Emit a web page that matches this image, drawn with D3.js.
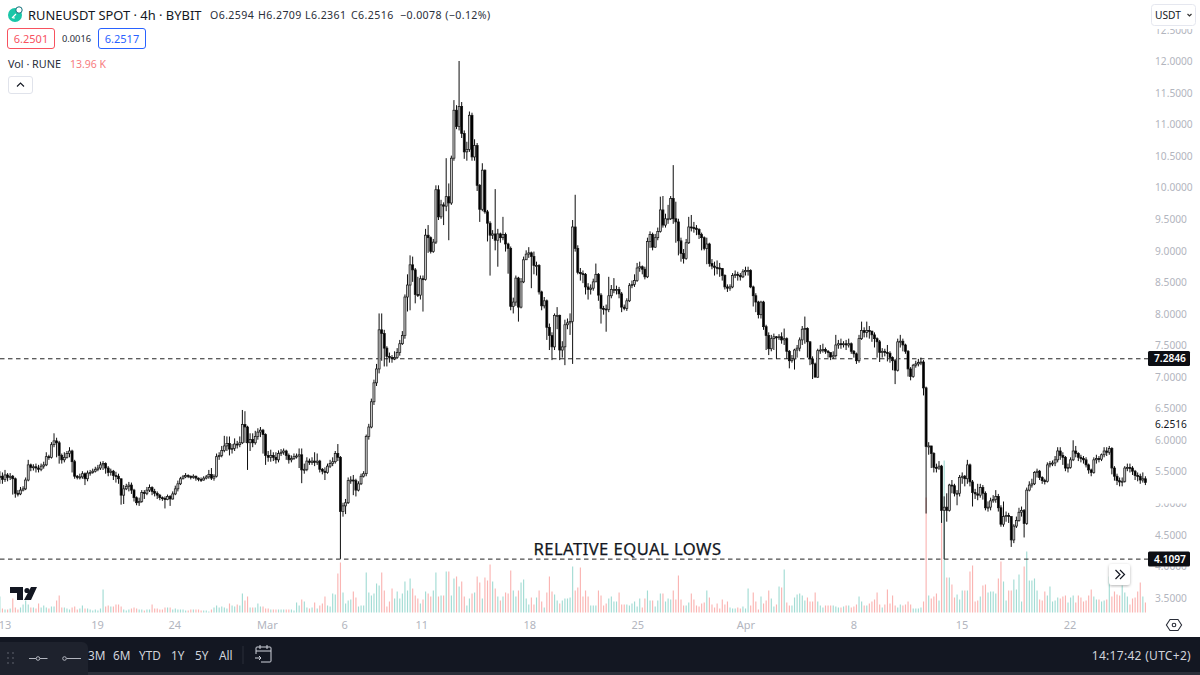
<!DOCTYPE html>
<html><head><meta charset="utf-8">
<script src="https://cdnjs.cloudflare.com/ajax/libs/d3/7.8.5/d3.min.js"></script>
<style>html,body{margin:0;padding:0;background:#fff;overflow:hidden}svg{display:block}text{font-family:"Noto Sans",sans-serif}</style>
</head><body><svg id="c" width="1200" height="675"></svg>
<script>
const closes=[
5.42,5.37,5.44,5.40,5.42,5.38,5.15,5.14,5.20,5.22,
5.36,5.60,5.56,5.57,5.55,5.53,5.58,5.60,5.73,5.72,
5.92,5.98,5.95,5.75,5.68,5.72,5.78,5.82,5.65,5.42,
5.40,5.41,5.46,5.38,5.47,5.48,5.50,5.53,5.55,5.60,
5.62,5.55,5.48,5.50,5.43,5.42,5.38,5.12,5.22,5.26,
5.28,5.20,5.08,5.00,5.02,5.16,5.15,5.20,5.24,5.18,
5.15,5.12,5.08,5.07,5.05,5.10,5.06,5.14,5.22,5.30,
5.38,5.41,5.43,5.42,5.40,5.42,5.39,5.37,5.36,5.39,
5.41,5.45,5.39,5.42,5.73,5.75,5.83,5.90,5.94,5.85,
5.86,5.93,5.92,5.95,6.24,6.20,5.95,6.00,5.95,6.05,
6.12,6.15,6.08,5.75,5.72,5.75,5.72,5.68,5.78,5.80,
5.82,5.75,5.68,5.70,5.73,5.74,5.76,5.52,5.53,5.66,
5.64,5.66,5.64,5.66,5.53,5.50,5.48,5.58,5.62,5.65,
5.78,5.72,4.86,4.95,5.00,5.35,5.36,5.35,5.20,5.30,
5.42,5.46,6.05,6.20,6.60,6.90,7.12,7.74,7.68,7.45,
7.32,7.30,7.28,7.30,7.38,7.52,7.65,8.26,8.45,8.77,
8.69,8.30,8.29,8.55,8.54,9.24,9.20,8.98,9.13,9.96,
9.53,9.72,9.70,9.85,9.75,10.46,11.22,10.96,11.28,10.85,
10.56,10.60,11.14,10.48,10.66,10.03,9.65,10.27,9.61,9.43,
9.24,9.26,9.16,9.26,9.20,9.25,9.10,9.03,8.11,8.18,
8.56,8.10,8.50,8.85,8.94,8.96,8.90,8.76,8.76,8.34,
8.12,8.20,7.78,7.65,7.47,7.97,7.97,7.42,7.47,7.82,
7.85,7.87,9.37,9.03,8.65,8.63,8.62,8.42,8.38,8.40,
8.50,8.62,8.29,8.08,8.07,8.06,8.28,8.38,8.38,8.38,
8.31,8.10,8.08,8.20,8.44,8.46,8.52,8.72,8.74,8.70,
8.58,9.14,9.25,9.05,9.20,9.30,9.64,9.40,9.50,9.50,
9.82,9.50,9.45,9.15,8.95,8.87,9.12,9.37,9.36,9.35,
9.33,9.25,9.20,9.03,9.10,8.79,8.75,8.73,8.72,8.71,
8.60,8.42,8.40,8.42,8.60,8.62,8.60,8.58,8.66,8.68,
8.68,8.42,8.28,8.18,7.98,8.18,7.79,7.65,7.44,7.60,
7.63,7.62,7.63,7.58,7.60,7.40,7.25,7.28,7.42,7.45,
7.58,7.75,7.76,7.55,7.28,7.20,6.99,7.41,7.42,7.43,
7.40,7.38,7.31,7.33,7.50,7.52,7.51,7.52,7.50,7.52,
7.40,7.36,7.25,7.60,7.73,7.70,7.73,7.72,7.66,7.60,
7.55,7.38,7.40,7.38,7.37,7.30,7.25,7.10,7.55,7.56,
7.50,7.40,7.12,7.00,7.18,7.20,7.22,7.23,6.82,5.89,
5.90,5.78,5.56,5.55,5.58,4.88,4.93,4.88,5.28,5.27,
5.15,5.15,5.40,5.42,5.38,5.60,5.33,5.16,5.14,5.12,
5.24,5.15,4.92,4.93,5.03,5.05,5.10,4.92,4.66,4.78,
4.80,4.78,4.41,4.63,4.72,4.85,4.88,4.67,5.20,5.28,
5.30,5.48,5.50,5.40,5.35,5.34,5.60,5.62,5.63,5.68,
5.82,5.75,5.72,5.55,5.56,5.68,5.82,5.78,5.72,5.70,
5.68,5.60,5.52,5.48,5.68,5.70,5.69,5.76,5.82,5.80,
5.86,5.55,5.42,5.35,5.33,5.34,5.55,5.56,5.55,5.50,
5.43,5.42,5.36,5.38,5.32];
const highs=[
5.50,5.48,5.52,5.47,5.47,5.44,5.40,5.20,5.25,5.26,
5.40,5.68,5.62,5.61,5.62,5.60,5.62,5.65,5.80,5.76,
5.96,6.10,6.03,5.98,5.78,5.80,5.82,5.88,5.84,5.68,
5.44,5.46,5.50,5.48,5.51,5.52,5.54,5.57,5.60,5.65,
5.66,5.64,5.58,5.54,5.52,5.49,5.46,5.38,5.28,5.30,
5.33,5.32,5.22,5.10,5.08,5.20,5.20,5.25,5.29,5.26,
5.22,5.18,5.14,5.10,5.10,5.13,5.12,5.18,5.27,5.35,
5.41,5.44,5.47,5.45,5.43,5.45,5.43,5.40,5.40,5.42,
5.44,5.52,5.55,5.45,5.78,5.80,5.90,6.06,6.05,6.05,
5.93,6.02,5.98,6.05,6.47,6.45,6.22,6.10,6.10,6.14,
6.18,6.20,6.17,6.10,5.82,5.84,5.80,5.80,5.83,5.85,
5.86,5.84,5.78,5.75,5.78,5.78,5.86,5.86,5.62,5.72,
5.70,5.72,5.80,5.78,5.68,5.55,5.56,5.62,5.68,5.72,
5.82,5.93,5.74,5.00,5.06,5.40,5.42,5.44,5.38,5.34,
5.46,5.50,6.08,6.25,6.65,6.95,7.20,8.00,8.00,7.74,
7.48,7.38,7.34,7.40,7.45,7.58,7.72,8.30,8.62,8.92,
8.90,8.72,8.58,8.60,8.60,9.34,9.40,9.22,9.18,10.03,
10.03,9.80,9.76,10.46,10.06,10.50,11.38,11.30,12.00,11.35,
10.90,10.72,11.20,11.18,10.76,10.70,10.05,10.38,10.28,9.64,
9.46,9.32,9.97,9.34,9.28,9.53,9.28,9.12,9.06,8.25,
8.60,8.58,8.56,8.90,9.00,9.05,8.98,8.98,8.82,8.78,
8.36,8.26,8.22,7.84,7.70,8.00,8.10,7.98,7.56,7.90,
7.92,8.00,9.48,9.88,9.08,8.72,8.68,8.64,8.48,8.46,
8.55,8.79,8.64,8.32,8.12,8.14,8.58,8.45,8.56,8.44,
8.42,8.34,8.14,8.24,8.48,8.52,8.62,8.80,8.82,8.76,
8.74,9.20,9.30,9.28,9.26,9.36,9.85,9.86,9.58,9.72,
9.86,10.35,9.77,9.50,9.20,9.02,9.18,9.53,9.56,9.45,
9.40,9.35,9.28,9.22,9.20,9.12,8.86,8.82,8.84,8.80,
8.72,8.62,8.46,8.46,8.64,8.68,8.66,8.64,8.70,8.74,
8.74,8.70,8.44,8.32,8.20,8.20,8.20,7.82,7.70,7.66,
7.68,7.64,7.67,7.70,7.76,7.62,7.42,7.34,7.44,7.50,
7.62,7.80,7.95,7.78,7.56,7.32,7.22,7.44,7.50,7.52,
7.46,7.42,7.38,7.40,7.66,7.58,7.60,7.56,7.58,7.60,
7.54,7.42,7.38,7.66,7.87,7.78,7.87,7.80,7.72,7.70,
7.62,7.58,7.45,7.44,7.50,7.40,7.32,7.28,7.60,7.66,
7.60,7.52,7.42,7.15,7.20,7.25,7.28,7.30,7.26,6.84,
5.96,5.90,5.80,5.62,5.66,5.60,5.10,5.15,5.30,5.36,
5.30,5.20,5.44,5.48,5.44,5.68,5.62,5.36,5.22,5.30,
5.30,5.28,5.18,5.02,5.08,5.12,5.20,5.14,4.96,5.02,
4.86,4.84,4.78,4.66,4.78,4.92,4.94,4.90,5.24,5.34,
5.38,5.50,5.54,5.52,5.42,5.38,5.64,5.66,5.67,5.74,
5.88,5.88,5.80,5.74,5.62,5.72,5.99,5.90,5.80,5.76,
5.74,5.72,5.62,5.54,5.72,5.76,5.74,5.78,5.88,5.88,
5.90,5.88,5.58,5.46,5.40,5.40,5.58,5.62,5.62,5.58,
5.52,5.48,5.46,5.48,5.42];
const lows=[
5.30,5.30,5.33,5.34,5.36,5.13,5.08,5.10,5.12,5.18,
5.20,5.34,5.50,5.51,5.48,5.48,5.50,5.54,5.58,5.68,
5.70,5.88,5.72,5.62,5.62,5.64,5.70,5.72,5.48,5.38,
5.37,5.37,5.38,5.28,5.34,5.43,5.46,5.48,5.50,5.52,
5.52,5.46,5.42,5.43,5.36,5.32,5.30,4.97,4.98,5.20,
5.18,5.14,5.02,4.96,4.95,5.00,5.06,5.12,5.17,5.12,
5.10,5.06,5.04,5.03,4.91,5.04,4.95,5.05,5.12,5.18,
5.28,5.37,5.39,5.39,5.37,5.38,5.35,5.34,5.33,5.35,
5.37,5.38,5.36,5.35,5.40,5.68,5.72,5.80,5.82,5.75,
5.78,5.82,5.86,5.88,5.93,5.95,5.52,5.82,5.88,5.92,
6.00,6.04,5.78,5.60,5.65,5.65,5.66,5.62,5.64,5.74,
5.76,5.68,5.62,5.64,5.68,5.70,5.55,5.31,5.46,5.50,
5.60,5.60,5.58,5.60,5.48,5.45,5.36,5.46,5.55,5.58,
5.62,5.66,4.11,4.78,4.82,4.98,5.30,5.12,5.10,5.18,
5.28,5.40,5.42,6.00,6.18,6.55,6.85,7.05,7.25,7.16,
7.16,7.22,7.22,7.26,7.28,7.33,7.50,7.60,8.03,8.05,
8.50,8.16,8.26,8.22,8.03,8.52,8.96,8.95,8.96,9.10,
9.48,9.50,9.40,9.62,9.16,9.72,10.42,10.92,10.90,10.78,
10.45,10.42,10.56,10.42,10.42,9.94,9.45,9.62,9.58,9.14,
8.60,9.18,9.00,8.74,9.12,9.16,8.98,8.63,8.05,8.00,
8.12,7.87,8.08,8.48,8.85,8.88,8.40,8.62,8.60,8.30,
8.05,8.08,7.58,7.42,7.26,7.42,7.75,7.26,7.30,7.18,
7.75,7.66,7.20,8.98,8.62,8.52,8.48,8.30,8.22,8.30,
8.36,8.50,8.20,7.84,7.98,7.71,8.02,8.24,8.32,8.30,
8.24,8.02,8.05,8.04,8.18,8.40,8.42,8.50,8.66,8.62,
8.54,8.56,9.04,9.00,9.04,9.16,9.28,9.36,9.36,9.42,
9.48,9.42,9.12,8.92,8.82,8.79,8.85,9.10,9.30,9.28,
9.24,9.18,9.00,9.00,8.78,8.74,8.70,8.60,8.62,8.58,
8.52,8.38,8.34,8.36,8.40,8.56,8.52,8.52,8.56,8.60,
8.60,8.40,8.11,8.02,7.92,7.92,7.74,7.42,7.34,7.40,
7.42,7.28,7.58,7.52,7.50,7.28,7.13,7.22,7.11,7.30,
7.40,7.50,7.52,7.30,7.18,6.96,6.99,6.98,7.36,7.38,
7.36,7.30,7.26,7.28,7.30,7.44,7.44,7.46,7.42,7.46,
7.36,7.30,7.20,7.22,7.58,7.62,7.62,7.60,7.55,7.46,
7.30,7.23,7.30,7.32,7.24,7.22,7.10,6.88,7.08,7.46,
7.40,7.36,7.00,6.94,6.98,7.14,7.16,7.18,6.70,4.83,
5.76,5.55,5.48,5.48,5.52,4.68,4.11,4.70,4.86,5.15,
5.10,4.96,5.10,5.30,5.26,5.30,5.26,4.94,5.06,5.04,
5.08,5.05,4.88,4.86,4.88,5.00,5.00,4.86,4.62,4.62,
4.70,4.68,4.30,4.36,4.60,4.70,4.78,4.45,4.65,5.18,
5.24,5.28,5.40,5.36,5.30,5.29,5.32,5.56,5.58,5.58,
5.64,5.68,5.60,5.50,5.48,5.54,5.66,5.72,5.66,5.64,
5.62,5.56,5.46,5.42,5.46,5.62,5.64,5.66,5.72,5.74,
5.76,5.45,5.35,5.28,5.26,5.26,5.32,5.50,5.48,5.44,
5.36,5.34,5.30,5.32,5.28];
const volumes=[
16,4,3,3,4,14,5,3,5,8,
12,8,5,5,4,9,5,7,5,4,
6,6,12,17,5,5,4,3,5,6,
3,4,7,4,4,3,2,3,2,4,
23,6,7,6,6,8,8,6,3,2,
3,4,5,4,3,3,2,3,3,8,
4,4,3,3,5,5,5,3,4,3,
3,3,2,2,3,3,3,3,2,2,
2,1,3,5,7,5,6,5,4,9,
7,6,8,7,19,12,16,5,5,5,
9,6,6,4,4,3,3,3,3,3,
3,3,3,3,2,10,7,13,11,5,
4,5,10,4,7,9,16,7,6,19,
18,39,50,20,9,12,13,21,15,6,
7,7,40,20,17,19,29,27,40,22,
6,11,24,14,21,14,19,31,22,34,
24,17,14,9,13,21,19,16,22,40,
16,17,17,41,41,17,34,36,26,31,
16,7,14,19,20,36,30,14,35,32,
48,31,24,16,12,16,20,19,42,22,
16,22,30,33,14,8,15,8,15,22,
11,5,20,36,21,18,12,9,12,14,
14,15,46,22,25,45,16,22,16,7,
7,7,22,17,7,9,14,16,11,11,
20,8,8,8,7,9,11,6,14,5,
14,22,12,12,6,12,19,19,11,14,
13,22,13,37,13,7,7,10,19,13,
7,6,9,10,22,15,8,5,9,4,
13,8,11,5,4,4,5,4,6,4,
24,7,20,11,3,16,9,12,22,14,
6,8,26,25,43,10,7,7,15,18,
19,17,12,15,11,11,20,11,7,5,
7,7,7,7,6,5,5,6,7,7,
5,6,8,16,11,7,7,9,11,13,
20,8,5,8,23,9,17,7,5,8,
7,8,11,8,4,4,4,5,11,115,
17,14,16,19,12,90,152,35,35,28,
15,18,13,22,22,22,41,47,11,12,
16,27,28,20,21,21,19,34,51,31,
12,22,22,33,23,38,11,46,61,32,
32,34,22,13,12,21,17,26,11,12,
15,14,16,17,10,15,17,10,17,15,
11,12,17,23,16,13,13,11,12,13,
36,16,21,18,17,27,20,16,8,14,
15,21,30,16,10];
const firstOpen=5.40;
const startTime=Date.UTC(2024,1,12,16);
const priceTicks=[3.5,4,4.5,5,5.5,6,6.5,7,7.5,8,8.5,9,9.5,10,10.5,11,11.5,12,12.5];
const dateTicks=[[2024,1,13,"13"],[2024,1,19,"19"],[2024,1,24,"24"],[2024,2,1,"Mar"],[2024,2,6,"6"],[2024,2,11,"11"],[2024,2,18,"18"],[2024,2,25,"25"],[2024,3,1,"Apr"],[2024,3,8,"8"],[2024,3,15,"15"],[2024,3,22,"22"]];
const levels=[7.2846,4.1097];
const rangeButtons=[["3M",88],["6M",113],["YTD",139],["1Y",171],["5Y",195],["All",219]];

const svg=d3.select("#c");
const FOUR_H=4*3600*1000;
const t=i=>new Date(startTime+i*FOUR_H);
const x=d3.scaleUtc().domain([t(0),t(444)]).range([-0.16,1145.4]);
const xTicks=d3.scaleUtc().domain([t(2),t(416)]).range([5,1070]);
const y=d3.scaleLinear().domain([3.5,12]).range([597.4,61]);
const v=d3.scaleLinear().domain([0,160]).range([612.5,452.5]);

svg.append("rect").attr("width",1200).attr("height",675).attr("fill","#fff");
svg.append("defs").append("clipPath").attr("id","pane").append("rect").attr("width",1148).attr("height",637);
svg.append("defs").append("filter").attr("id","soft").append("feGaussianBlur").attr("stdDeviation",0.35);
const data=closes.map((c,i)=>({i,c,o:i?closes[i-1]:firstOpen,h:highs[i],l:lows[i],v:volumes[i]}));
const pane=svg.append("g").attr("clip-path","url(#pane)");

// volume
pane.append("g").selectAll("rect").data(data).join("rect")
 .attr("x",d=>x(t(d.i))-0.55).attr("width",1.15)
 .attr("y",d=>v(d.v)).attr("height",d=>v(0)-v(d.v))
 .attr("fill",d=>d.c>=d.o?"#a3dcd4":"#fab5b3");

// level lines
pane.append("g").selectAll("line").data(levels).join("line")
 .attr("x1",0).attr("x2",1148).attr("y1",d=>y(d)+0.2).attr("y2",d=>y(d)+0.2)
 .attr("stroke","#222").attr("stroke-width",1).attr("stroke-dasharray","4.5 3.5");

// candles
const cg=pane.append("g").attr("filter","url(#soft)");
cg.append("g").selectAll("line").data(data).join("line")
 .attr("x1",d=>x(t(d.i))).attr("x2",d=>x(t(d.i)))
 .attr("y1",d=>y(Math.max(d.h,d.o,d.c))).attr("y2",d=>y(Math.min(d.l,d.o,d.c)))
 .attr("stroke","#111").attr("stroke-width",1);
cg.append("g").selectAll("rect").data(data).join("rect")
 .attr("x",d=>x(t(d.i))-1).attr("width",2)
 .attr("y",d=>y(Math.max(d.o,d.c))).attr("height",d=>Math.max(1,Math.abs(y(d.o)-y(d.c))))
 .attr("fill",d=>d.c>=d.o?"#c4c4c4":"#000").attr("stroke","#111").attr("stroke-width",0.7);

svg.append("text").attr("x",627.5).attr("y",554.5).attr("text-anchor","middle").attr("font-size",16.6).attr("fill","#131722").attr("stroke","#131722").attr("stroke-width",0.25).attr("letter-spacing",0.45).text("RELATIVE EQUAL LOWS");

// TV logo
svg.append("path").attr("d","M10 587h13v13h-6v-7h-7z M31 587h6l-6 13h-7z").attr("fill","#131722");
svg.append("circle").attr("cx",27).attr("cy",590.5).attr("r",2.6).attr("fill","#131722");

// price axis
const yAxis=d3.axisRight(y).tickValues(priceTicks).tickSize(0).tickPadding(7).tickFormat(d3.format(".4f"));
const gy=svg.append("g").attr("transform","translate(1148,0.5)").call(yAxis);
gy.select(".domain").remove();
gy.selectAll("text").attr("fill","#b2b5be").attr("font-size",10.2).style("font-family",'"Noto Sans",sans-serif');
// covers over clipped axis labels
svg.append("rect").attr("x",1150).attr("y",0).attr("width",50).attr("height",29).attr("fill","#fff");
svg.append("rect").attr("x",1150).attr("y",494).attr("width",50).attr("height",9.5).attr("fill","#fff");
svg.append("text").attr("x",1155).attr("y",428).attr("font-size",10.2).attr("fill","#131722").text(d3.format(".4f")(6.2516));

levels.forEach(l=>{
 const g=svg.append("g").attr("transform",`translate(0,${y(l)})`);
 g.append("rect").attr("x",1148).attr("y",-7.5).attr("width",42).attr("height",15).attr("rx",1.5).attr("fill","#0c0e13");
 g.append("text").attr("x",1154).attr("y",3.8).attr("font-size",10.2).attr("font-weight",600).attr("fill","#fff").text(d3.format(".4f")(l));
});

// USDT box
svg.append("rect").attr("x",1151.5).attr("y",4.5).attr("width",44).attr("height",21).attr("rx",3).attr("fill","#fff").attr("stroke","#e5e7ef");
svg.append("text").attr("x",1155).attr("y",18.5).attr("font-size",10.2).attr("fill","#131722").text("USDT");
svg.append("path").attr("d","M1187.5 14l2 2 2-2").attr("fill","none").attr("stroke","#333").attr("stroke-width",1.2);

// date axis
const gx=svg.append("g");
gx.selectAll("text").data(dateTicks).join("text")
 .attr("x",d=>xTicks(new Date(Date.UTC(d[0],d[1],d[2])))).attr("y",629).attr("text-anchor","middle")
 .attr("fill","#b2b5be").attr("font-size",11).text(d=>d[3]);

// gear
svg.append("path").attr("d","M1170 619.5h8l3.6 5.5-3.6 5.5h-8l-3.6-5.5z").attr("fill","none").attr("stroke","#2a2e39").attr("stroke-width",1.1);
svg.append("circle").attr("cx",1174).attr("cy",625).attr("r",1.8).attr("fill","none").attr("stroke","#2a2e39").attr("stroke-width",1.1);

// >> button
svg.append("defs").append("filter").attr("id","sh").append("feDropShadow").attr("dx",0).attr("dy",1).attr("stdDeviation",1.5).attr("flood-opacity",0.3);
svg.append("rect").attr("x",1109).attr("y",564).attr("width",21).attr("height",21).attr("rx",3).attr("fill","#fff").attr("filter","url(#sh)");
svg.append("path").attr("d","M1115.5 570l4.5 4.5-4.5 4.5M1120 570l4.5 4.5-4.5 4.5").attr("fill","none").attr("stroke","#131722").attr("stroke-width",1.2);

// bottom bar
svg.append("rect").attr("x",0).attr("y",637).attr("width",1200).attr("height",35).attr("fill","#131722");
svg.append("rect").attr("x",0).attr("y",672).attr("width",1200).attr("height",3).attr("fill","#2a2e39");
svg.append("rect").attr("x",-5).attr("y",642).attr("width",93).attr("height",40).attr("rx",6).attr("fill","#1e222d");
svg.append("g").selectAll("circle").data([[8,653],[13,653],[8,658],[13,658],[8,663],[13,663]]).join("circle")
 .attr("cx",d=>d[0]).attr("cy",d=>d[1]).attr("r",0.9).attr("fill","#50535e");
svg.append("path").attr("d","M29 658.5h7m4 0h7.5M66.5 658.5h14.5").attr("stroke","#b2b5be").attr("fill","none");
svg.append("circle").attr("cx",38).attr("cy",658.5).attr("r",1.8).attr("fill","none").attr("stroke","#b2b5be");
svg.append("circle").attr("cx",64.5).attr("cy",658.5).attr("r",1.8).attr("fill","none").attr("stroke","#b2b5be");
svg.append("g").selectAll("text").data(rangeButtons).join("text")
 .attr("x",d=>d[1]).attr("y",659.5).attr("font-size",11.8).attr("fill","#d1d4dc").text(d=>d[0]);
svg.append("line").attr("x1",243).attr("x2",243).attr("y1",646).attr("y2",664).attr("stroke","#2a2e39");
svg.append("path").attr("d","M256 654v-6a1 1 0 0 1 1-1h13a1 1 0 0 1 1 1v13a1 1 0 0 1-1 1h-9M256 651h15M260 645v4M267 645v4M255 658h6l-2-2m2 2l-2 2").attr("fill","none").attr("stroke","#d1d4dc");
svg.append("text").attr("x",1191).attr("y",659.5).attr("text-anchor","end").attr("font-size",12).attr("letter-spacing",0.3).attr("fill","#d1d4dc").text("14:17:42 (UTC+2)");

// header legend
svg.append("circle").attr("cx",15).attr("cy",15).attr("r",7).attr("fill","#19c6a8");
svg.append("circle").attr("cx",19).attr("cy",10).attr("r",3.2).attr("fill","#fff").attr("stroke","#136f7a").attr("stroke-width",1);
svg.append("path").attr("d","M12 18l4-4m-2.5 4.5l1-1").attr("stroke","#fff").attr("stroke-width",1.2).attr("fill","none");
svg.append("text").attr("x",28).attr("y",20).attr("font-size",12.9).attr("fill","#131722").text("RUNEUSDT SPOT · 4h · BYBIT");
const ohlcLabels=[["O6.2594",210],["H6.2709",258],["L6.2361",305],["C6.2516",351],["−0.0078 (−0.12%)",400]];
svg.append("g").selectAll("text").data(ohlcLabels).join("text").attr("x",d=>d[1]).attr("y",19).attr("font-size",10.6).attr("letter-spacing",0.4).attr("fill","#2a2e39").text(d=>d[0]);
svg.append("rect").attr("x",7.5).attr("y",28.5).attr("width",47).attr("height",20).attr("rx",2.5).attr("fill","#fff").attr("stroke","#f7525f");
svg.append("text").attr("x",31).attr("y",42.5).attr("text-anchor","middle").attr("font-size",11).attr("fill","#f7525f").text("6.2501");
svg.append("text").attr("x",76.5).attr("y",42).attr("text-anchor","middle").attr("font-size",9.3).attr("fill","#2a2e39").text("0.0016");
svg.append("rect").attr("x",98.5).attr("y",28.5).attr("width",47).attr("height",20).attr("rx",2.5).attr("fill","#fff").attr("stroke","#2962ff");
svg.append("text").attr("x",122).attr("y",42.5).attr("text-anchor","middle").attr("font-size",11).attr("fill","#2962ff").text("6.2517");
svg.append("text").attr("x",8).attr("y",68).attr("font-size",10.8).attr("fill","#2a2e39").text("Vol · RUNE");
svg.append("text").attr("x",70).attr("y",68).attr("font-size",10.5).attr("fill","#f77c80").text("13.96 K");
svg.append("rect").attr("x",8.5).attr("y",76.5).attr("width",24).attr("height",17).attr("rx",2.5).attr("fill","#fff").attr("stroke","#e0e3eb");
svg.append("path").attr("d","M17 86.5l3.5-3.5 3.5 3.5").attr("fill","none").attr("stroke","#131722").attr("stroke-width",1.1);
</script></body></html>
